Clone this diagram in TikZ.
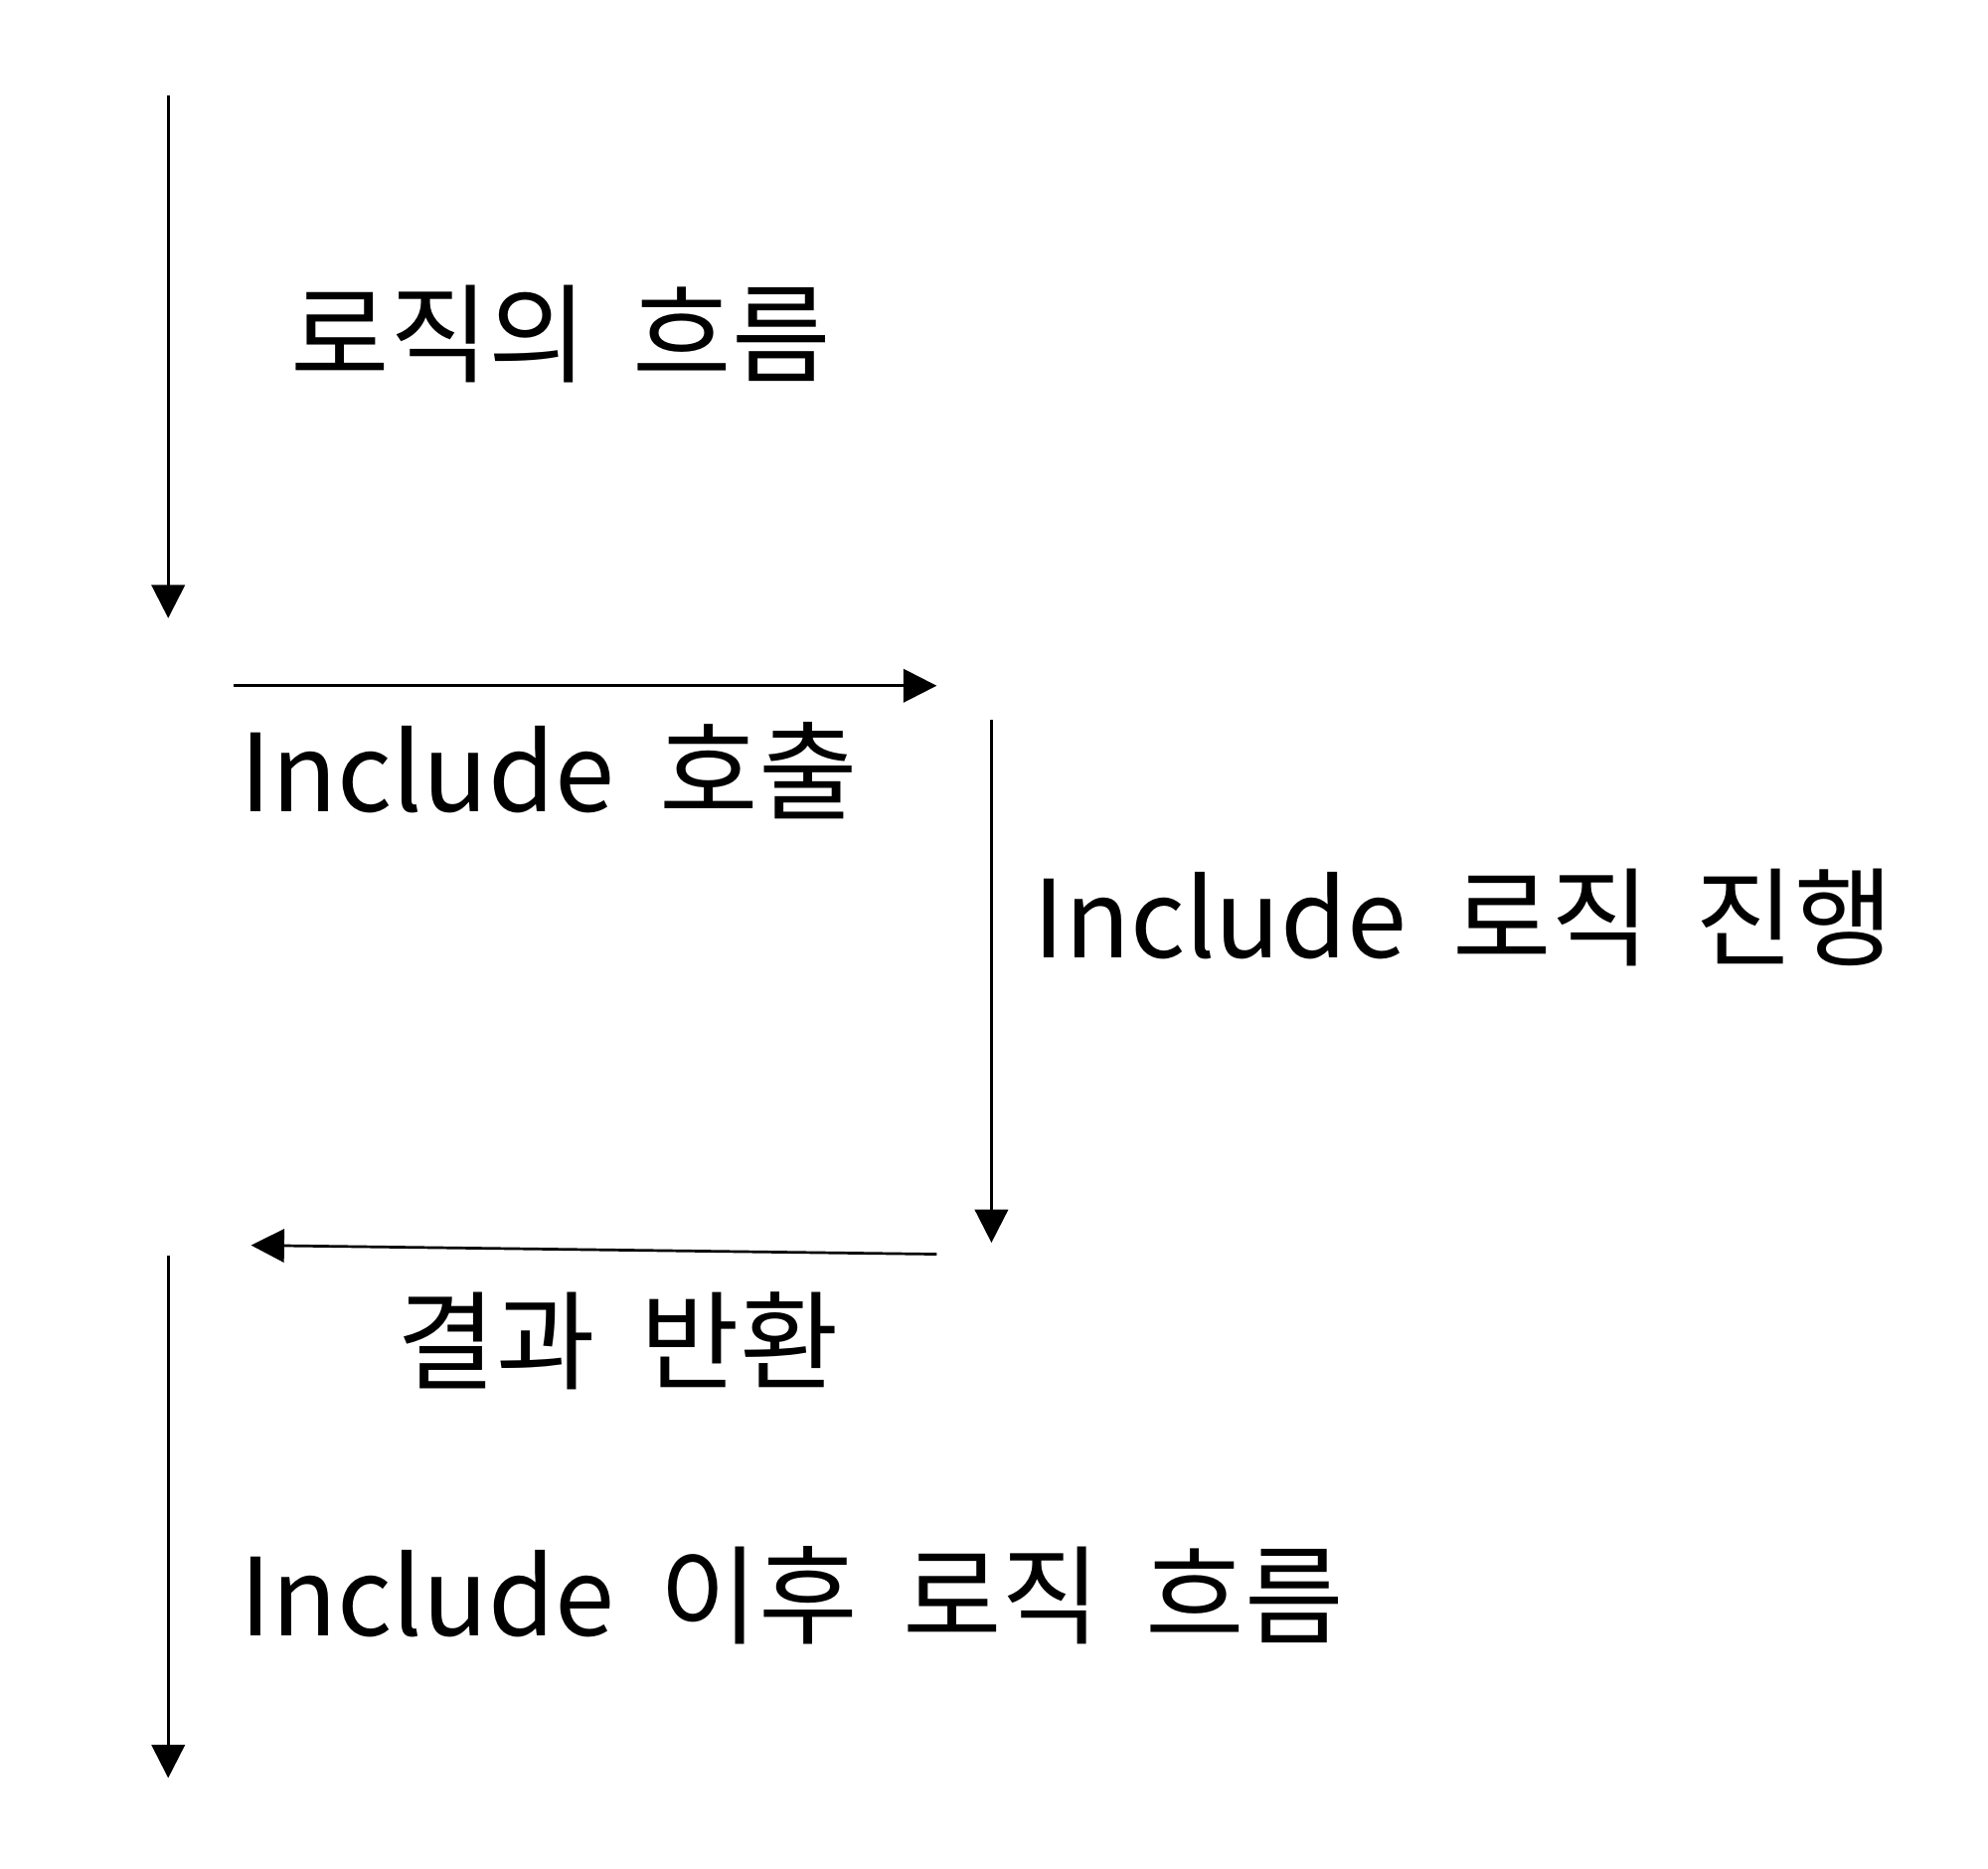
\documentclass[tikz,border=0pt]{standalone}
\usepackage{fontspec}
\setmainfont{Noto Sans CJK KR}
\usetikzlibrary{arrows.meta}
\newcommand\lblfont{\fontsize{24}{28}\selectfont\spaceskip=0.42em\relax}

\begin{document}
\begin{tikzpicture}[x=0.01cm,y=-0.01cm,
  flow/.style={-{Triangle[length=0.26cm,width=0.26cm]}, line width=0.6pt},
  lbl/.style={font=\lblfont, inner sep=0pt}]
 \useasboundingbox (0,0) rectangle (1560,1466);
 % arrows
 \coordinate (a1) at (132,75);   \coordinate (b1) at (132,485);
 \coordinate (a2) at (183,538);  \coordinate (b2) at (735,538);
 \coordinate (a3) at (778,565);  \coordinate (b3) at (778,975);
 \coordinate (a4) at (735,984);  \coordinate (b4) at (197,977);
 \coordinate (a5) at (132,985);  \coordinate (b5) at (132,1395);
 \draw[flow] (a1) -- (b1);
 \draw[flow] (a2) -- (b2);
 \draw[flow] (a3) -- (b3);
 \draw[flow] (a4) -- (b4);
 \draw[flow] (a5) -- (b5);
 % labels
 \node[lbl] (main) at (440,262) {로직의 흐름};
 \node[lbl, anchor=west] (call) at (188,605) {Include 호출};
 \node[lbl, anchor=west] (run) at (810,720) {Include 로직 진행};
 \node[lbl] (ret) at (485,1052) {결과 반환};
 \node[lbl, anchor=west] (after) at (188,1252) {Include 이후 로직 흐름};
\end{tikzpicture}
\end{document}
